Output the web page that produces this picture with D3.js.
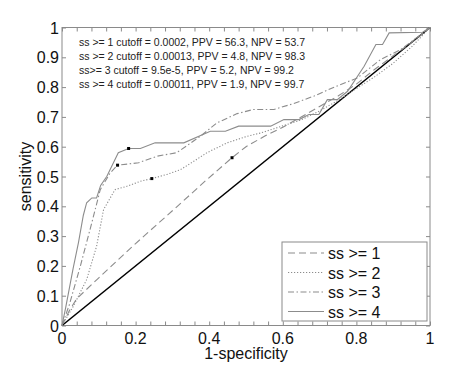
<!DOCTYPE html>
<html><head><meta charset="utf-8">
<script src="https://cdn.jsdelivr.net/npm/d3@7"></script>
<style>
html,body{margin:0;padding:0;background:#fff;}
text{font-family:"Liberation Sans",Arial,sans-serif;}
</style></head>
<body><svg id="c" width="474" height="366"></svg>
<script>
// ---- data ----
const seriesNames = ["ss >= 1", "ss >= 2", "ss >= 3", "ss >= 4"];
const fpr1 = [0, 0.02, 0.04, 0.10, 0.20, 0.30, 0.394, 0.462, 0.50, 0.55, 0.60, 0.65, 0.70, 0.75, 0.80, 0.85, 0.90, 0.95, 1];
const tpr1 = [0, 0.05, 0.09, 0.16, 0.275, 0.385, 0.49, 0.563, 0.60, 0.635, 0.665, 0.70, 0.735, 0.77, 0.81, 0.86, 0.905, 0.95, 1];
const fpr2 = [0, 0.031, 0.067, 0.094, 0.113, 0.131, 0.144, 0.176, 0.213, 0.244, 0.285, 0.322, 0.358, 0.394, 0.449, 0.503, 0.54, 0.60, 0.65, 0.70, 0.75, 0.80, 0.85, 0.90, 0.95, 1];
const tpr2 = [0, 0.065, 0.154, 0.266, 0.389, 0.428, 0.456, 0.467, 0.484, 0.493, 0.507, 0.523, 0.551, 0.58, 0.613, 0.635, 0.646, 0.67, 0.69, 0.72, 0.755, 0.795, 0.835, 0.88, 0.935, 1];
const fpr3 = [0, 0.02, 0.05, 0.08, 0.104, 0.131, 0.151, 0.208, 0.258, 0.312, 0.376, 0.421, 0.476, 0.52, 0.576, 0.63, 0.685, 0.74, 0.803, 0.866, 0.921, 1];
const tpr3 = [0, 0.07, 0.2, 0.34, 0.456, 0.512, 0.538, 0.546, 0.568, 0.58, 0.635, 0.68, 0.711, 0.725, 0.725, 0.745, 0.77, 0.80, 0.831, 0.893, 0.926, 1];
const fpr4 = [0, 0.01, 0.03, 0.045, 0.058, 0.067, 0.081, 0.094, 0.105, 0.122, 0.153, 0.181, 0.213, 0.253, 0.331, 0.403, 0.444, 0.48, 0.567, 0.603, 0.644, 0.671, 0.698, 0.721, 0.748, 0.776, 0.821, 0.853, 0.871, 0.889, 0.98, 1];
const tpr4 = [0, 0.06, 0.19, 0.28, 0.37, 0.412, 0.428, 0.428, 0.47, 0.501, 0.58, 0.594, 0.594, 0.613, 0.613, 0.652, 0.652, 0.669, 0.669, 0.691, 0.691, 0.708, 0.708, 0.758, 0.758, 0.786, 0.87, 0.943, 0.943, 0.982, 0.984, 1];
// cutoff points (marked)
const markFpr = [0.462, 0.244, 0.151, 0.181];
const markTpr = [0.563, 0.493, 0.538, 0.594];
const annotations = [
  "ss >= 1 cutoff = 0.0002, PPV = 56.3, NPV = 53.7",
  "ss >= 2 cutoff = 0.00013, PPV = 4.8, NPV = 98.3",
  "ss>= 3 cutoff = 9.5e-5, PPV = 5.2, NPV = 99.2",
  "ss >= 4 cutoff = 0.00011, PPV = 1.9, NPV = 99.7"
];
const yTicks = [0, 0.1, 0.2, 0.3, 0.4, 0.5, 0.6, 0.7, 0.8, 0.9, 1];
const xTickLabels = [0, 0.2, 0.4, 0.6, 0.8, 1];
const xLabel = "1-specificity", yLabel = "sensitivity";

// ---- drawing ----
const svg = d3.select("#c");
const L = 62, R = 430, T = 27.5, B = 325.5;
const x = d3.scaleLinear().domain([0, 1]).range([L, R]);
const y = d3.scaleLinear().domain([0, 1]).range([B, T]);
const axisCol = "#8a8a8a";
const lineCol = "#8c8c8c";

svg.append("rect").attr("x", L).attr("y", T).attr("width", R - L).attr("height", B - T)
  .attr("fill", "#fff").attr("stroke", axisCol).attr("stroke-width", 1);

const xMinor = d3.range(0, 26).map(i => i * 0.04);
const tl = 4;
function styleAxis(g){ g.select(".domain").remove(); g.selectAll("line").attr("stroke", axisCol); }
svg.append("g").attr("transform", `translate(0,${B})`)
  .call(d3.axisBottom(x).tickValues(xMinor).tickSizeInner(-tl).tickSizeOuter(0).tickFormat(""))
  .call(styleAxis);
svg.append("g").attr("transform", `translate(0,${T})`)
  .call(d3.axisTop(x).tickValues(xMinor).tickSizeInner(-tl).tickSizeOuter(0).tickFormat(""))
  .call(styleAxis);
svg.append("g").attr("transform", `translate(${L},0)`)
  .call(d3.axisLeft(y).tickValues(yTicks).tickSizeInner(-tl).tickSizeOuter(0).tickFormat(""))
  .call(styleAxis);
svg.append("g").attr("transform", `translate(${R},0)`)
  .call(d3.axisRight(y).tickValues(yTicks).tickSizeInner(-tl).tickSizeOuter(0).tickFormat(""))
  .call(styleAxis);

// tick labels
svg.append("g").selectAll("text").data(yTicks).join("text")
  .attr("x", L - 3).attr("y", d => y(d) + 6).attr("text-anchor", "end")
  .attr("font-size", 16).attr("fill", "#111").text(d => d3.format("~g")(d));
svg.append("g").selectAll("text").data(xTickLabels).join("text")
  .attr("x", d => x(d)).attr("y", B + 18).attr("text-anchor", "middle")
  .attr("font-size", 16).attr("fill", "#111").text(d => d3.format("~g")(d));
svg.append("text").attr("x", (L + R) / 2).attr("y", 359).attr("text-anchor", "middle")
  .attr("font-size", 16).attr("fill", "#111").text(xLabel);
svg.append("text").attr("transform", `translate(31,${(T + B) / 2}) rotate(-90)`)
  .attr("text-anchor", "middle").attr("font-size", 16).attr("fill", "#111").text(yLabel);

// chance line
svg.append("line").attr("x1", x(0)).attr("y1", y(0)).attr("x2", x(1)).attr("y2", y(1))
  .attr("stroke", "#000").attr("stroke-width", 1.6);

const dashes = ["7,4", "1.2,1.8", "6,2.5,1.5,2.5", null];
const fprs = [fpr1, fpr2, fpr3, fpr4], tprs = [tpr1, tpr2, tpr3, tpr4];
const line = d3.line().x(d => x(d[0])).y(d => y(d[1]));
fprs.forEach((f, i) => {
  svg.append("path").datum(f.map((v, j) => [v, tprs[i][j]]))
    .attr("d", line).attr("fill", "none").attr("stroke", lineCol)
    .attr("stroke-width", 1.1).attr("stroke-dasharray", dashes[i]);
});
svg.append("g").selectAll("rect").data(markFpr).join("rect")
  .attr("x", (d) => x(d) - 1.5).attr("y", (d, i) => y(markTpr[i]) - 1.5)
  .attr("width", 3).attr("height", 3).attr("fill", "#000");

// annotations
svg.append("g").selectAll("text").data(annotations).join("text")
  .attr("x", 79).attr("y", (d, i) => 46 + i * 14).attr("font-size", 10.5).attr("fill", "#222").text(d => d);

// legend
const lg = svg.append("g");
lg.append("rect").attr("x", 282).attr("y", 242).attr("width", 145).attr("height", 79)
  .attr("fill", "#fff").attr("stroke", axisCol).attr("stroke-width", 1);
seriesNames.forEach((n, i) => {
  const yy = 253 + i * 19.5;
  lg.append("line").attr("x1", 288).attr("x2", 324).attr("y1", yy).attr("y2", yy)
    .attr("stroke", lineCol).attr("stroke-width", 1.1).attr("stroke-dasharray", dashes[i]);
  lg.append("text").attr("x", 328).attr("y", yy + 6).attr("font-size", 16).attr("fill", "#111").text(n);
});
</script></body></html>
